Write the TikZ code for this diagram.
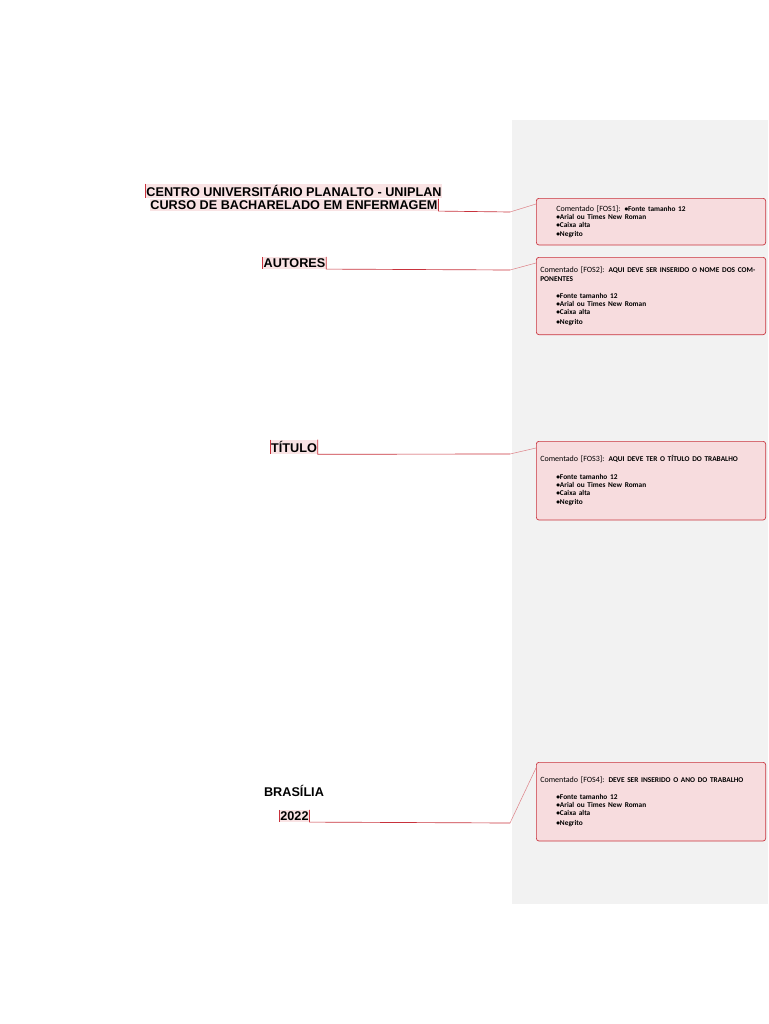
\documentclass[tikz,border=0pt]{standalone}
\usepackage{fontspec}
\setmainfont{Liberation Sans}
\newfontfamily\cmt{Carlito}
\begin{document}
\begin{tikzpicture}[x=0.75pt,y=-0.75pt,
  hl/.style={fill=hlpink,inner xsep=0.5pt,inner ysep=1pt,font=\bfseries\fontsize{9.5}{11}\selectfont,text=black},
  cbox/.style={draw=cred,fill=boxpink,rounded corners=2pt,line width=0.5pt,anchor=north west,minimum width=172pt,text width=166pt,align=left,inner xsep=3pt,inner ysep=2pt,font=\cmt\fontsize{6}{8}\selectfont},
  lnk/.style={draw=cred,line width=0.5pt},
  slant/.style={draw=cred!60,line width=0.4pt}]
\definecolor{cred}{HTML}{C8323C}
\definecolor{boxpink}{HTML}{F7DCDE}
\definecolor{hlpink}{HTML}{F9E3E4}
\definecolor{panel}{HTML}{F2F2F2}
\useasboundingbox (0,0) rectangle (768,1024);
\fill[panel] (512,120) rectangle (768,904);
% texts
\node[hl] (t1) at (294,191) {CENTRO UNIVERSITÁRIO PLANALTO - UNIPLAN};
\node[hl] (t2) at (294,205) {CURSO DE BACHARELADO EM ENFERMAGEM};
\node[hl] (aut) at (294.5,263) {AUTORES};
\node[hl] (tit) at (294,447) {TÍTULO};
\node[font=\bfseries\fontsize{9.5}{11}\selectfont] (bra) at (294,791) {BRASÍLIA};
\node[hl] (ano) at (294.5,816) {2022};
% boxes
\node[cbox,minimum height=35pt] (c1) at (536,198) {\hspace*{12pt}Comentado [FOS1]: {\bfseries\fontsize{5.5}{7}\selectfont •Fonte tamanho 12}\\[-1pt]
\hspace*{12pt}{\bfseries\fontsize{5.5}{7}\selectfont •Arial ou Times New Roman\\[-1pt]\hspace*{12pt}•Caixa alta\\[-1pt]\hspace*{12pt}•Negrito}};
\node[cbox,minimum height=58pt] (c2) at (536,257) {Comentado [FOS2]: {\bfseries\fontsize{5.5}{7}\selectfont AQUI DEVE SER INSERIDO O NOME DOS COMPONENTES\\[6pt]
\hspace*{12pt}•Fonte tamanho 12\\[-1pt]\hspace*{12pt}•Arial ou Times New Roman\\[-1pt]\hspace*{12pt}•Caixa alta\\[-1pt]\hspace*{12pt}•Negrito}};
\node[cbox,minimum height=59pt] (c3) at (536,441) {Comentado [FOS3]: {\bfseries\fontsize{5.5}{7}\selectfont AQUI DEVE TER O TÍTULO DO TRABALHO\\[6pt]
\hspace*{12pt}•Fonte tamanho 12\\[-1pt]\hspace*{12pt}•Arial ou Times New Roman\\[-1pt]\hspace*{12pt}•Caixa alta\\[-1pt]\hspace*{12pt}•Negrito}};
\node[cbox,minimum height=59pt] (c4) at (536,762) {Comentado [FOS4]: {\bfseries\fontsize{5.5}{7}\selectfont DEVE SER INSERIDO O ANO DO TRABALHO\\[6pt]
\hspace*{12pt}•Fonte tamanho 12\\[-1pt]\hspace*{12pt}•Arial ou Times New Roman\\[-1pt]\hspace*{12pt}•Caixa alta\\[-1pt]\hspace*{12pt}•Negrito}};
% markers & connectors
\draw[lnk] (t1.north west) -- (t1.south west);
\coordinate (k1) at (510,212);
\coordinate (k2) at (510,270);
\coordinate (k3) at (510,454);
\coordinate (k4) at (510,823);
\draw[lnk] (t2.north east) -- (t2.south east) -- (k1);
\draw[slant] (k1) -- (c1.north west |- 0,204) coordinate (e1);
\draw[lnk] (aut.north west) -- (aut.south west);
\draw[lnk] (aut.north east) -- (aut.south east) -- (k2);
\draw[slant] (k2) -- (c2.north west |- 0,263);
\draw[lnk] (tit.north west) -- (tit.south west);
\draw[lnk] (tit.north east) -- (tit.south east) -- (k3);
\draw[slant] (k3) -- (c3.north west |- 0,448);
\draw[lnk] (ano.north west) -- (ano.south west);
\draw[lnk] (ano.north east) -- (ano.south east) -- (k4);
\draw[slant] (k4) -- (c4.north west |- 0,768);
\end{tikzpicture}
\end{document}
